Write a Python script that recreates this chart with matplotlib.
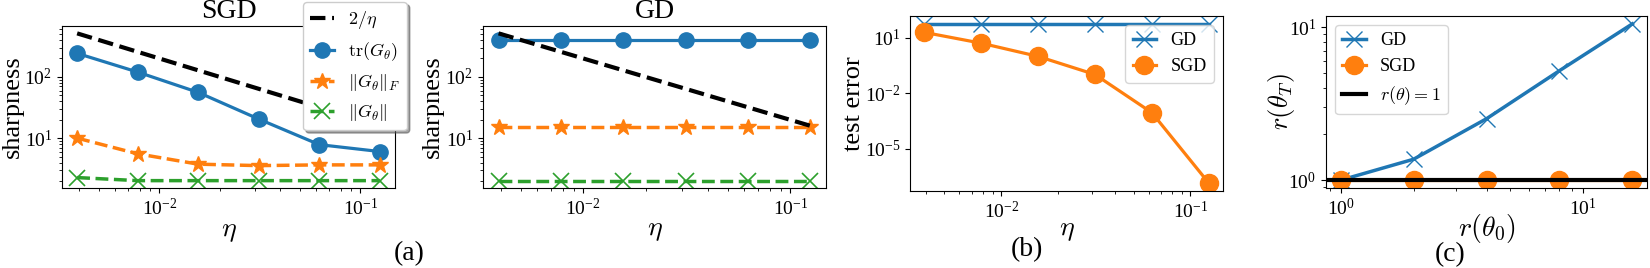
import matplotlib
matplotlib.use("Agg")
import matplotlib.pyplot as plt

plt.rcParams['font.family'] = ['Liberation Serif', 'DejaVu Serif']
plt.rcParams['mathtext.fontset'] = 'cm'
plt.rcParams['axes.unicode_minus'] = False

# ---- data ----
eta = [0.00390625, 0.0078125, 0.015625, 0.03125, 0.0625, 0.125]
two_over_eta = [512, 256, 128, 64, 32, 16]

sgd_tr = [242, 120, 56, 20.6, 7.9, 6.1]
sgd_fro = [10.1, 5.6, 3.8, 3.6, 3.7, 3.7]
sgd_spec = [2.3, 2.05, 2.05, 2.05, 2.05, 2.05]

gd_tr = [400, 400, 400, 400, 400, 400]
gd_fro = [15.5, 15.5, 15.5, 15.5, 15.5, 15.5]
gd_spec = [2.05, 2.05, 2.05, 2.05, 2.05, 2.05]

gd_err = [57, 57, 57, 57, 57, 57]
sgd_err = [20, 5.2, 1.0, 0.105, 9e-4, 1.4e-7]

r0 = [1, 2, 4, 8, 16]
gd_r = [1.0, 1.37, 2.52, 5.19, 10.5]
sgd_r = [1.0, 1.0, 1.0, 1.0, 1.0]

W, H = 1650, 268
fig = plt.figure(figsize=(W / 100, H / 100), dpi=100)


def add_ax(l, r, t, b):
    return fig.add_axes([l / W, (H - b) / H, (r - l) / W, (b - t) / H])


BLUE, ORANGE, GREEN = '#1f77b4', '#ff7f0e', '#2ca02c'
TICK_FS = 14
LAB_FS = 20
YLAB_FS = 19
LEG_FS = 13


def style(ax, xlab, ylab, xlab_y, ylab_x):
    ax.set_xscale('log')
    ax.set_yscale('log')
    ax.tick_params(labelsize=TICK_FS)
    ax.set_xlabel(xlab, fontsize=LAB_FS)
    ax.set_ylabel(ylab, fontsize=YLAB_FS)
    ax.xaxis.set_label_coords(0.5, xlab_y)
    ax.xaxis.label.set_verticalalignment('center')
    ax.yaxis.set_label_coords(ylab_x, 0.5)
    ax.yaxis.label.set_verticalalignment('center')


# Panel (a) SGD
ax1 = add_ax(62, 395, 26, 188)
ax1.plot(eta, two_over_eta, '--', color='black', lw=3, label=r'$2/\eta$')
ax1.plot(eta, sgd_tr, '-o', color=BLUE, lw=2.3, ms=11, label=r'$\mathrm{tr}(G_\theta)$')
ax1.plot(eta, sgd_fro, '--*', color=ORANGE, lw=2.5, ms=12, label=r'$\|G_\theta\|_F$')
ax1.plot(eta, sgd_spec, '--x', color=GREEN, lw=2.5, ms=11, mew=1.2, label=r'$\|G_\theta\|$')
style(ax1, r'$\eta$', 'sharpness', -0.27, -0.148)
ax1.set_title('SGD', fontsize=LAB_FS)
ax1.legend(loc='upper right', bbox_to_anchor=(407 / W, (H - 2) / H),
           bbox_transform=fig.transFigure, borderaxespad=0, fontsize=LEG_FS,
           shadow=True, handlelength=1.3)

# Panel (a) GD
ax2 = add_ax(483, 826, 26, 188)
ax2.plot(eta, two_over_eta, '--', color='black', lw=3, zorder=3)
ax2.plot(eta, gd_tr, '-o', color=BLUE, lw=2.3, ms=11)
ax2.plot(eta, gd_fro, '--*', color=ORANGE, lw=2.5, ms=12)
ax2.plot(eta, gd_spec, '--x', color=GREEN, lw=2.5, ms=11, mew=1.2)
style(ax2, r'$\eta$', 'sharpness', -0.26, -0.145)
ax2.set_title('GD', fontsize=LAB_FS)

# Panel (b)
ax3 = add_ax(910, 1223, 16, 191)
ax3.plot(eta, gd_err, '-x', color=BLUE, lw=2.5, ms=12, mew=1.0, label='GD')
ax3.plot(eta, sgd_err, '-o', color=ORANGE, lw=2.3, ms=13, label='SGD')
style(ax3, r'$\eta$', 'test error', -0.223, -0.18)
ax3.set_yticks([1e1, 1e-2, 1e-5])
ax3.legend(loc='upper right', fontsize=LEG_FS, handlelength=1.3)

# Panel (c)
ax4 = add_ax(1326, 1647, 16, 188)
ax4.plot(r0, gd_r, '-x', color=BLUE, lw=2.5, ms=12, mew=1.0, label='GD')
ax4.plot(r0, sgd_r, '-o', color=ORANGE, lw=2.3, ms=13, label='SGD')
ax4.axhline(1.0, color='black', lw=3, label=r'$r(\theta)=1$')
style(ax4, r'$r(\theta_0)$', r'$r(\theta_T)$', -0.233, -0.14)
ax4.legend(loc='upper left', fontsize=LEG_FS, handlelength=1.3)

# panel tags
fig.text(409 / W, 1 - 254 / H, '(a)', fontsize=LAB_FS, ha='center', va='center')
fig.text(1027 / W, 1 - 250 / H, '(b)', fontsize=LAB_FS, ha='center', va='center')
fig.text(1450 / W, 1 - 255 / H, '(c)', fontsize=LAB_FS, ha='center', va='center')

fig.savefig('out.png', dpi=100)
